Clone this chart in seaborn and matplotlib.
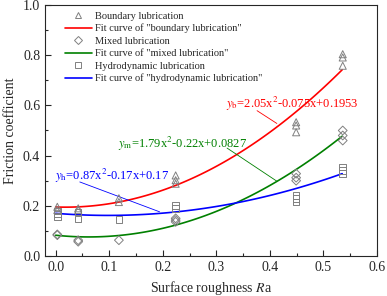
import numpy as np
import pandas as pd
import seaborn as sns
import matplotlib.pyplot as plt
from matplotlib.ticker import MultipleLocator

# measured friction coefficients, three runs per roughness level
ra_levels = [0.003, 0.042, 0.118, 0.224, 0.449, 0.536]
boundary = [[0.196, 0.183], [0.183, 0.190], [0.230, 0.215], [0.321, 0.302, 0.288],
            [0.533, 0.520, 0.493], [0.804, 0.791, 0.758]]
mixed = [[0.083, 0.086], [0.063, 0.057], [0.063], [0.150, 0.143, 0.136],
         [0.328, 0.312, 0.300], [0.500, 0.480, 0.460]]
hydro = [[0.180, 0.168, 0.156], [0.175, 0.148], [0.146], [0.202, 0.189],
         [0.242, 0.229, 0.215], [0.354, 0.341, 0.328]]

# quadratic fit coefficients (a, b, c) as printed on the chart
coef_b = [2.05, -0.075, 0.1953]
coef_m = [1.79, -0.22, 0.0827]
coef_h = [0.87, -0.17, 0.17]

def long_df(vals):
    rows = [(x, v) for x, vs in zip(ra_levels, vals) for v in vs]
    return pd.DataFrame(rows, columns=['Ra', 'mu'])

df_b = long_df(boundary)
df_m = long_df(mixed)
df_h = long_df(hydro)

xfit = np.linspace(0, 0.535, 100)

sns.set_style('ticks')
plt.rcParams['font.family'] = ['Liberation Serif', 'DejaVu Serif']
plt.rcParams['mathtext.fontset'] = 'stix'
plt.rcParams['xtick.direction'] = 'in'
plt.rcParams['ytick.direction'] = 'in'

fig, ax = plt.subplots(figsize=(3.87, 2.96), dpi=100)
fig.subplots_adjust(left=45/387, right=377/387, bottom=1-256/296, top=1-5/296)

mk = dict(fc='none', ec='#808080', linewidth=0.7, s=26, zorder=3)
h1 = sns.scatterplot(data=df_b, x='Ra', y='mu', marker='^', ax=ax, **mk)
sns.lineplot(x=xfit, y=np.polyval(coef_b, xfit), color='red', lw=1.2, ax=ax)
sns.scatterplot(data=df_m, x='Ra', y='mu', marker='D', ax=ax, **dict(mk, s=20))
sns.lineplot(x=xfit, y=np.polyval(coef_m, xfit), color='green', lw=1.2, ax=ax)
sns.scatterplot(data=df_h, x='Ra', y='mu', marker='s', ax=ax, **dict(mk, s=22))
sns.lineplot(x=xfit, y=np.polyval(coef_h, xfit), color='blue', lw=1.2, ax=ax)

# legend
from matplotlib.lines import Line2D
gm = dict(ls='none', mfc='none', mec='#808080', mew=0.7)
handles = [Line2D([], [], marker='^', ms=5, **gm),
           Line2D([], [], color='red', lw=1.2),
           Line2D([], [], marker='D', ms=4.5, **gm),
           Line2D([], [], color='green', lw=1.2),
           Line2D([], [], marker='s', ms=4.5, **gm),
           Line2D([], [], color='blue', lw=1.2)]
labels = ['Boundary lubrication', 'Fit curve of "boundary lubrication"',
          'Mixed lubrication', 'Fit curve of "mixed lubrication"',
          'Hydrodynamic lubrication', 'Fit curve of "hydrodynamic lubrication"']
ax.legend(handles, labels, loc='upper left', bbox_to_anchor=(0.04, 1.0),
          frameon=False, fontsize=7.5, labelspacing=0.3, handlelength=2.6,
          handletextpad=0.3, borderaxespad=0.2)

# equation annotations
ax.text(0.318, 0.607, r'$y_{\rm b}$=2.05x$^2$-0.075x+0.1953', color='red',
        fontsize=9, va='center')
ax.plot([0.376, 0.413], [0.579, 0.528], color='red', lw=0.6)
ax.text(0.116, 0.448, r'$y_{\rm m}$=1.79x$^2$-0.22x+0.0827', color='green',
        fontsize=9, va='center')
ax.plot([0.32, 0.413], [0.43, 0.298], color='green', lw=0.6)
ax.text(-0.002, 0.317, r'$y_{\rm h}$=0.87x$^2$-0.17x+0.17', color='blue',
        fontsize=9, va='center')
ax.plot([0.045, 0.194], [0.295, 0.176], color='blue', lw=0.6)

ax.set_xlim(-0.02, 0.6)
ax.set_ylim(0, 1.0)
ax.xaxis.set_major_locator(MultipleLocator(0.1))
ax.xaxis.set_minor_locator(MultipleLocator(0.05))
ax.yaxis.set_major_locator(MultipleLocator(0.2))
ax.yaxis.set_minor_locator(MultipleLocator(0.1))
ax.tick_params(which='major', length=4, width=0.8, labelsize=10)
ax.tick_params(which='minor', length=2.5, width=0.8)
for s in ax.spines.values():
    s.set_linewidth(0.8)
ax.set_xlabel(r'Surface roughness $\it{R}$a', fontsize=10)
ax.set_ylabel('Friction coefficient', fontsize=10)

fig.savefig('out.png', dpi=100)
